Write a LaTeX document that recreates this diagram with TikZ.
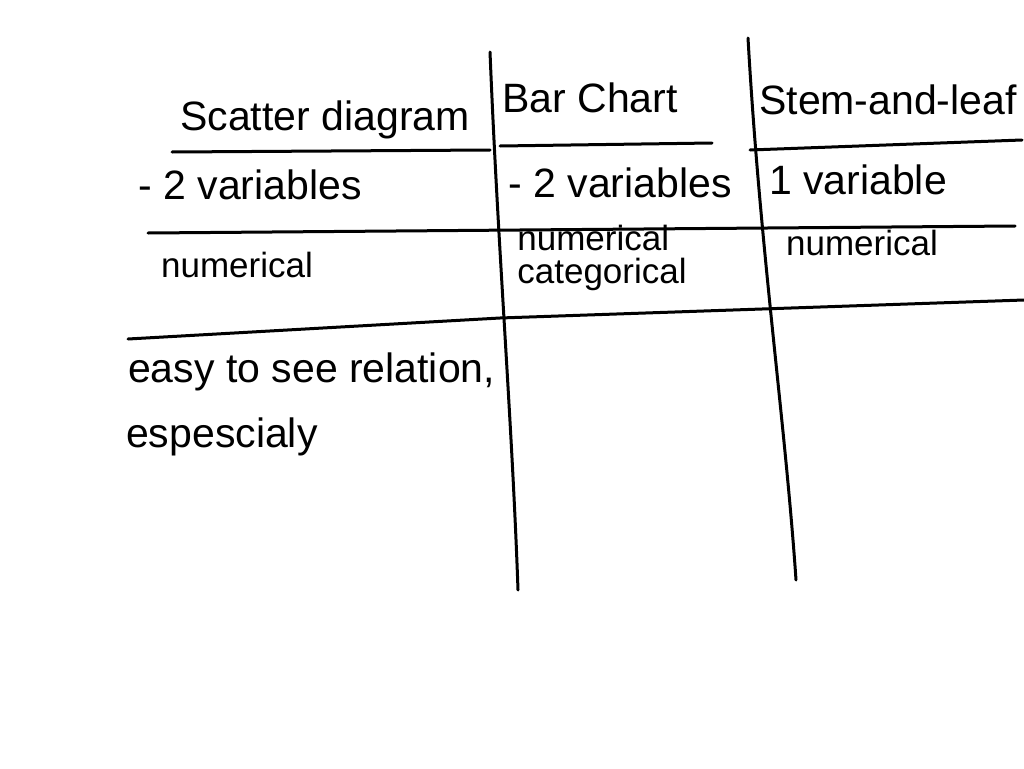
\documentclass[tikz,border=0pt]{standalone}
\usepackage{fontspec}
\setmainfont{Liberation Sans}
\begin{document}
\begin{tikzpicture}[x=1pt,y=-1pt,
  pen/.style={line width=3pt,line cap=round,black},
  hw/.style={font=\fontsize{41}{44}\selectfont,inner sep=0pt},
  hs/.style={font=\fontsize{35}{33}\selectfont,inner sep=0pt,align=left}]
\useasboundingbox (0,0) rectangle (1024,768);
\draw[pen] (490,52) .. controls (498,250) and (512,420) .. (518,590);
\draw[pen] (748,38) .. controls (760,250) and (785,420) .. (796,580);
\draw[pen] (172,152) -- (490,150);
\draw[pen] (500,146) -- (712,143);
\draw[pen] (750,150) -- (1022,140);
\draw[pen] (148,233) -- (1015,226);
\draw[pen] (128,339) -- (500,318) -- (1024,300);
\node[hw] (t1) at (325,120) {Scatter diagram};
\node[hw] (t2) at (590,98) {Bar Chart};
\node[hw] (t3) at (888,100) {Stem-and-leaf};
\node[hw] (a1) at (250,185) {- 2 variables};
\node[hw] (a2) at (620,183) {- 2 variables};
\node[hw] (a3) at (858,180) {1 variable};
\node[hs] (b1) at (237,265) {numerical};
\node[hs] (b2) at (602,258) {numerical\\categorical};
\node[hs] (b3) at (862,243) {numerical};
\node[hw,anchor=west] (c1) at (128,372) {easy to see relation,};
\node[hw,anchor=west] (c2) at (126,437) {espescialy};
\end{tikzpicture}
\end{document}
